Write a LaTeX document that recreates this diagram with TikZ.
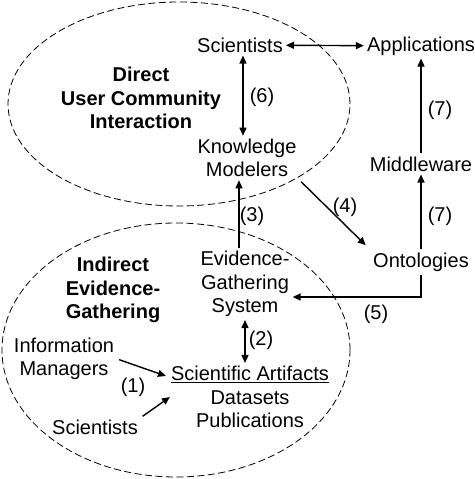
\documentclass[tikz,border=0pt]{standalone}
\usepackage{fontspec}
\setmainfont{Liberation Sans}
\usetikzlibrary{arrows.meta}

\begin{document}
\begin{tikzpicture}[x=1pt,y=-1pt,every node/.style={align=center,inner sep=3pt,font=\fontsize{20}{23.5}\selectfont},
	link/.style={line width=1.4pt,-{Triangle[length=8pt,width=7pt]}},
	twoway/.style={line width=1.4pt,{Triangle[length=8pt,width=7pt]}-{Triangle[length=8pt,width=7pt]}},
	group/.style={dashed,line width=0.8pt,dash pattern=on 7pt off 3.5pt},
	title/.style={font=\fontsize{20}{23.5}\selectfont\bfseries}]
	
	\useasboundingbox (0,0) rectangle (474,479);
	\draw[group] (179,104) ellipse [x radius=171pt, y radius=102pt];
	\draw[group] (176,350) ellipse [x radius=174pt, y radius=127pt];
	
	\node[title] (direct) at (141,98) {Direct\\User Community\\Interaction};
	\node[title] (indirect) at (113,290) {Indirect\\Evidence-\\Gathering};
	
	\node (sci) at (240,45) {Scientists};
	\node (app) at (421,46) {Applications};
	\node (km) at (247,158) {Knowledge\\Modelers};
	\node (mw) at (421,164) {Middleware};
	\node (ont) at (421,262) {Ontologies};
	\node (egs) at (245,284) {Evidence-\\Gathering\\System};
	\node (sa) at (250,397) {\underline{Scientific Artifacts}\\Datasets\\Publications};
	\node (im) at (64,359) {Information\\Managers};
	\node (sci2) at (95,427) {Scientists};
	
	\node (n1) at (133,387) {(1)};
	\node (n2) at (261,340) {(2)};
	\node (n3) at (252,216) {(3)};
	\node (n4) at (345,207) {(4)};
	\node (n5) at (376,314) {(5)};
	\node (n6) at (262,97) {(6)};
	\node (n7) at (440,110) {(7)};
	\node (n7b) at (440,216) {(7)};
	
	\draw[twoway] (sci) -- (app);
	\draw[twoway] ([xshift=3pt]sci.south) -- ([xshift=3pt]sci.south |- km.north);
	\draw[link] (mw) -- (app);
	\draw[link] (ont) -- (mw);
	\draw[link] ([xshift=-6pt]egs.north) -- ([xshift=-6pt]egs.north |- km.south);
	\draw[link,shorten <=2pt,shorten >=6pt] (km.south east) -- (ont.north west);
	\draw[link] (ont.south) |- ([yshift=-13pt]egs.east);
	\draw[twoway] (egs) -- (egs |- sa.north);
	\draw[link,shorten <=2pt] (im.east) -- ([yshift=21pt,xshift=-2pt]sa.west);
	\draw[link,shorten <=2pt] ([yshift=-1pt]sci2.north east) -- ([xshift=2pt]sa.west);
\end{tikzpicture}
\end{document}
